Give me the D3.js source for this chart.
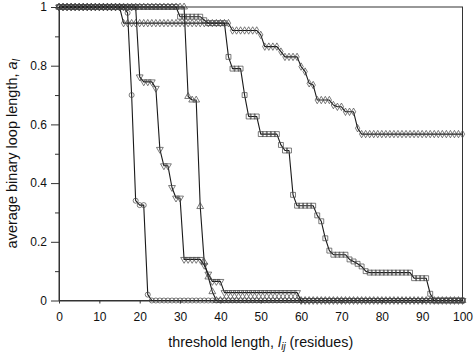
<!DOCTYPE html>
<html>
<head>
<meta charset="utf-8">
<script src="https://cdn.jsdelivr.net/npm/d3@7"></script>
<style>
  body { margin: 0; background: #fff; }
  svg { display: block; font-family: 'Liberation Sans', Arial, sans-serif; }
</style>
</head>
<body>
<svg width="474" height="352"></svg>
<script>
const width = 474;
const height = 352;

// thresholds 0..100 residues, one value per integer threshold
const thresholds = d3.range(0, 101);

const circleSeries = [
  1, 1, 1, 1, 1, 1, 1, 1, 1, 1,
  1, 1, 1, 1, 1, 1, 1, 0.98, 0.70, 0.34,
  0.325, 0.325, 0.02, 0, 0, 0, 0, 0, 0, 0,
  0, 0, 0, 0, 0, 0, 0, 0, 0, 0,
  0, 0, 0, 0, 0, 0, 0, 0, 0, 0,
  0, 0, 0, 0, 0, 0, 0, 0, 0, 0,
  0, 0, 0, 0, 0, 0, 0, 0, 0, 0,
  0, 0, 0, 0, 0, 0, 0, 0, 0, 0,
  0, 0, 0, 0, 0, 0, 0, 0, 0, 0,
  0, 0, 0, 0, 0, 0, 0, 0, 0, 0,
  0
];

const triDownSeries = [
  1, 1, 1, 1, 1, 1, 1, 1, 1, 1,
  1, 1, 1, 1, 1, 1, 1, 1, 1, 1,
  0.762, 0.745, 0.745, 0.745, 0.723, 0.515, 0.459, 0.459, 0.385, 0.349,
  0.349, 0.14, 0.14, 0.14, 0.14, 0.14, 0.12, 0.09, 0.065, 0.065,
  0.065, 0.027, 0.027, 0.027, 0.027, 0.027, 0.027, 0.027, 0.027, 0.027,
  0.027, 0.027, 0.027, 0.027, 0.027, 0.027, 0.027, 0.027, 0.027, 0.027,
  0, 0, 0, 0, 0, 0, 0, 0, 0, 0,
  0, 0, 0, 0, 0, 0, 0, 0, 0, 0,
  0, 0, 0, 0, 0, 0, 0, 0, 0, 0,
  0, 0, 0, 0, 0, 0, 0, 0, 0, 0,
  0
];

const triUpSeries = [
  1, 1, 1, 1, 1, 1, 1, 1, 1, 1,
  1, 1, 1, 1, 1, 1, 1, 1, 1, 1,
  1, 1, 1, 1, 1, 1, 1, 1, 1, 1,
  1, 1, 0.695, 0.683, 0.683, 0.32, 0.13, 0.08, 0.03, 0,
  0, 0, 0, 0, 0, 0, 0, 0, 0, 0,
  0, 0, 0, 0, 0, 0, 0, 0, 0, 0,
  0, 0, 0, 0, 0, 0, 0, 0, 0, 0,
  0, 0, 0, 0, 0, 0, 0, 0, 0, 0,
  0, 0, 0, 0, 0, 0, 0, 0, 0, 0,
  0, 0, 0, 0, 0, 0, 0, 0, 0, 0,
  0
];

const squareSeries = [
  1, 1, 1, 1, 1, 1, 1, 1, 1, 1,
  1, 1, 1, 1, 1, 1, 1, 1, 1, 1,
  1, 1, 1, 1, 1, 1, 1, 1, 1, 1,
  0.967, 0.967, 0.967, 0.967, 0.967, 0.967, 0.955, 0.945, 0.945, 0.945,
  0.945, 0.945, 0.83, 0.79, 0.79, 0.79, 0.70, 0.627, 0.627, 0.627,
  0.567, 0.567, 0.567, 0.567, 0.567, 0.53, 0.511, 0.511, 0.36, 0.323,
  0.323, 0.323, 0.323, 0.323, 0.29, 0.27, 0.212, 0.17, 0.156, 0.156,
  0.156, 0.156, 0.14, 0.133, 0.125, 0.116, 0.10, 0.095, 0.095, 0.095,
  0.095, 0.095, 0.095, 0.095, 0.095, 0.095, 0.095, 0.095, 0.076, 0.076,
  0.076, 0.076, 0.023, 0, 0, 0, 0, 0, 0, 0,
  0
];

const diamondSeries = [
  1, 1, 1, 1, 1, 1, 1, 1, 1, 1,
  1, 1, 1, 1, 1, 1, 0.945, 0.945, 0.945, 0.945,
  0.945, 0.945, 0.945, 0.945, 0.945, 0.945, 0.945, 0.945, 0.945, 0.945,
  0.945, 0.945, 0.945, 0.945, 0.945, 0.945, 0.945, 0.945, 0.945, 0.945,
  0.945, 0.945, 0.945, 0.92, 0.92, 0.92, 0.92, 0.92, 0.92, 0.92,
  0.905, 0.865, 0.865, 0.865, 0.865, 0.848, 0.83, 0.83, 0.83, 0.83,
  0.797, 0.78, 0.74, 0.734, 0.683, 0.683, 0.683, 0.683, 0.666, 0.66,
  0.66, 0.643, 0.643, 0.643, 0.587, 0.567, 0.567, 0.567, 0.567, 0.567,
  0.567, 0.567, 0.567, 0.567, 0.567, 0.567, 0.567, 0.567, 0.567, 0.567,
  0.567, 0.567, 0.567, 0.567, 0.567, 0.567, 0.567, 0.567, 0.567, 0.567,
  0.567
];

const xTicks = [0, 10, 20, 30, 40, 50, 60, 70, 80, 90, 100];
const yTicks = [0, 0.2, 0.4, 0.6, 0.8, 1];
const yTickLabels = ['0', '0.2', '0.4', '0.6', '0.8', '1'];
const yMinorTicks = [0.1, 0.3, 0.5, 0.7, 0.9];

const series = [
  { name: 'circle', values: circleSeries, symbol: d3.symbolCircle, size: 20, rotate: 0 },
  { name: 'triDown', values: triDownSeries, symbol: d3.symbolTriangle, size: 20, rotate: 180 },
  { name: 'triUp', values: triUpSeries, symbol: d3.symbolTriangle, size: 20, rotate: 0 },
  { name: 'square', values: squareSeries, symbol: d3.symbolSquare, size: 24, rotate: 0 },
  { name: 'diamond', values: diamondSeries, symbol: d3.symbolDiamond, size: 16, rotate: 0 }
];

const svg = d3.select('svg');

const x = d3.scaleLinear().domain([0, 100]).range([59, 462.5]);
const y = d3.scaleLinear().domain([0, 1]).range([300.5, 7]);

// frame
svg.append('rect')
  .attr('x', x(0)).attr('y', y(1))
  .attr('width', x(100) - x(0)).attr('height', y(0) - y(1))
  .attr('fill', 'none').attr('stroke', '#333').attr('stroke-width', 1);

// axes
const yAxis = svg.append('g')
  .attr('transform', `translate(${x(0)},0)`)
  .call(d3.axisLeft(y).tickValues(yTicks).tickSize(8).tickSizeOuter(0).tickPadding(4)
    .tickFormat((d, i) => yTickLabels[i]));
svg.append('g')
  .attr('transform', `translate(${x(0)},0)`)
  .call(d3.axisLeft(y).tickValues(yMinorTicks).tickSize(4).tickSizeOuter(0).tickFormat(''));

const xAxis = svg.append('g')
  .attr('transform', `translate(0,${y(0)})`)
  .call(d3.axisBottom(x).tickValues(xTicks).tickSize(3).tickSizeOuter(0).tickPadding(9));

svg.selectAll('.domain').attr('stroke', '#333');
svg.selectAll('.tick line').attr('stroke', '#333');
svg.selectAll('.tick text')
  .attr('font-family', "'Liberation Sans', Arial, sans-serif")
  .attr('font-size', 12).attr('fill', '#111');

// lines
const line = d3.line()
  .x((d, i) => x(thresholds[i]))
  .y(d => y(d));

svg.append('g').selectAll('path').data(series)
  .enter().append('path')
  .attr('d', d => line(d.values))
  .attr('fill', 'none')
  .attr('stroke', '#1a1a1a')
  .attr('stroke-width', 1.1)
  .attr('stroke-linejoin', 'round');

// markers
const markerGroups = svg.append('g').selectAll('g').data(series)
  .enter().append('g');
markerGroups.selectAll('path')
  .data(s => s.values.map((v, i) => ({ t: thresholds[i], v: v, s: s })))
  .enter().append('path')
  .attr('transform', d => `translate(${x(d.t)},${y(d.v)}) rotate(${d.s.rotate})`)
  .attr('d', d => d3.symbol().type(d.s.symbol).size(d.s.size)())
  .attr('fill', 'none')
  .attr('stroke', '#444')
  .attr('stroke-width', 0.7);

// axis titles
const xTitle = svg.append('text')
  .attr('x', (x(0) + x(100)) / 2)
  .attr('y', 347)
  .attr('text-anchor', 'middle')
  .attr('font-size', 14.3)
  .attr('fill', '#111');
xTitle.append('tspan').text('threshold length, ');
xTitle.append('tspan').attr('font-style', 'italic').text('l');
xTitle.append('tspan').attr('font-style', 'italic').attr('font-size', 10).attr('dy', 3).text('ij');
xTitle.append('tspan').attr('dy', -3).text(' (residues)');

const yTitle = svg.append('text')
  .attr('transform', `translate(17,${(y(0) + y(1)) / 2}) rotate(-90)`)
  .attr('text-anchor', 'middle')
  .attr('font-size', 14.5)
  .attr('fill', '#111');
yTitle.append('tspan').text('average binary loop length, ');
yTitle.append('tspan').attr('font-style', 'italic').text('a');
yTitle.append('tspan').attr('font-style', 'italic').attr('font-size', 10).attr('dy', 3).text('l');
</script>
</body>
</html>
